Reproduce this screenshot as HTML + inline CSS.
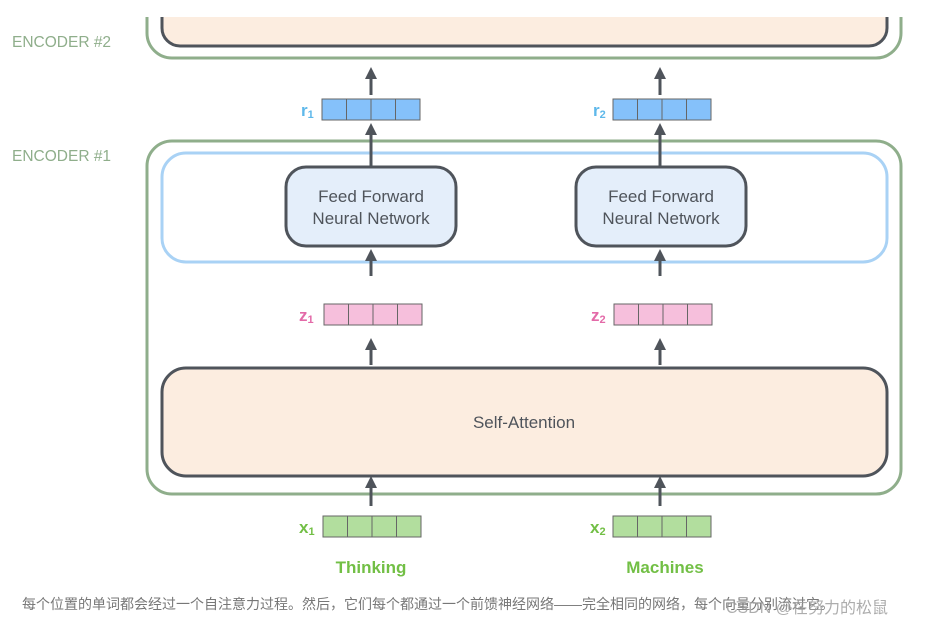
<!DOCTYPE html>
<html><head><meta charset="utf-8"><style>
body{margin:0;background:#fff;width:932px;height:627px;overflow:hidden}
text{font-family:"Liberation Sans","Noto Sans CJK SC",sans-serif}
</style></head><body>
<svg width="932" height="627" viewBox="0 0 932 627" xmlns="http://www.w3.org/2000/svg">
<defs>
<marker id="a" markerWidth="4" markerHeight="4" refX="2" refY="2" orient="auto" markerUnits="strokeWidth"><path d="M0,0 L4,2 L0,4 z" fill="#4f545b"/></marker>
</defs>
<!-- Encoder 2 -->
<rect x="147" y="-40" width="754" height="98" rx="25" fill="none" stroke="#8fae8b" stroke-width="3"/>
<rect x="162" y="-40" width="725" height="86" rx="18" fill="#fcede0" stroke="#4f545b" stroke-width="3"/>
<rect x="0" y="0" width="932" height="17" fill="#fff"/>
<text x="12" y="47" font-size="15.5" fill="#8fae8b">ENCODER #2</text>
<text x="12" y="161" font-size="15.5" fill="#8fae8b">ENCODER #1</text>
<!-- Encoder 1 -->
<rect x="147" y="141" width="754" height="353" rx="25" fill="none" stroke="#8fae8b" stroke-width="3"/>
<rect x="162" y="153" width="725" height="109" rx="24" fill="none" stroke="#a9d2f5" stroke-width="3"/>
<rect x="286" y="167" width="170" height="79" rx="20" fill="#e4eefa" stroke="#4f545b" stroke-width="3"/>
<rect x="576" y="167" width="170" height="79" rx="20" fill="#e4eefa" stroke="#4f545b" stroke-width="3"/>
<text x="371" y="202" font-size="17" fill="#4f545b" text-anchor="middle">Feed Forward</text>
<text x="371" y="224" font-size="17" fill="#4f545b" text-anchor="middle">Neural Network</text>
<text x="661" y="202" font-size="17" fill="#4f545b" text-anchor="middle">Feed Forward</text>
<text x="661" y="224" font-size="17" fill="#4f545b" text-anchor="middle">Neural Network</text>
<rect x="162" y="368" width="725" height="108" rx="24" fill="#fcede0" stroke="#4f545b" stroke-width="3"/>
<text x="524" y="428" font-size="17" fill="#4f545b" text-anchor="middle">Self-Attention</text>
<!-- vectors -->
<g stroke="#666" stroke-width="1">
<g fill="#85c1fa"><rect x="322" y="99" width="24.5" height="21"/><rect x="346.5" y="99" width="24.5" height="21"/><rect x="371" y="99" width="24.5" height="21"/><rect x="395.5" y="99" width="24.5" height="21"/>
<rect x="613" y="99" width="24.5" height="21"/><rect x="637.5" y="99" width="24.5" height="21"/><rect x="662" y="99" width="24.5" height="21"/><rect x="686.5" y="99" width="24.5" height="21"/></g>
<g fill="#f6bfdc"><rect x="324" y="304" width="24.5" height="21"/><rect x="348.5" y="304" width="24.5" height="21"/><rect x="373" y="304" width="24.5" height="21"/><rect x="397.5" y="304" width="24.5" height="21"/>
<rect x="614" y="304" width="24.5" height="21"/><rect x="638.5" y="304" width="24.5" height="21"/><rect x="663" y="304" width="24.5" height="21"/><rect x="687.5" y="304" width="24.5" height="21"/></g>
<g fill="#b2de9e"><rect x="323" y="516" width="24.5" height="21"/><rect x="347.5" y="516" width="24.5" height="21"/><rect x="372" y="516" width="24.5" height="21"/><rect x="396.5" y="516" width="24.5" height="21"/>
<rect x="613" y="516" width="24.5" height="21"/><rect x="637.5" y="516" width="24.5" height="21"/><rect x="662" y="516" width="24.5" height="21"/><rect x="686.5" y="516" width="24.5" height="21"/></g>
</g>
<g font-weight="bold" font-size="17">
<text x="301" y="116" fill="#5eb8ea">r<tspan font-size="11" dy="2">1</tspan></text>
<text x="593" y="116" fill="#5eb8ea">r<tspan font-size="11" dy="2">2</tspan></text>
<text x="299" y="321" fill="#e36aa8">z<tspan font-size="11" dy="2">1</tspan></text>
<text x="591" y="321" fill="#e36aa8">z<tspan font-size="11" dy="2">2</tspan></text>
<text x="299" y="533" fill="#72bf45">x<tspan font-size="11" dy="2">1</tspan></text>
<text x="590" y="533" fill="#72bf45">x<tspan font-size="11" dy="2">2</tspan></text>
<text x="371" y="573" fill="#72bf45" font-size="17" text-anchor="middle">Thinking</text>
<text x="665" y="573" fill="#72bf45" font-size="17" text-anchor="middle">Machines</text>
</g>
<!-- arrows -->
<g stroke="#4f545b" stroke-width="3" marker-end="url(#a)">
<line x1="371" y1="95" x2="371" y2="73"/><line x1="660" y1="95" x2="660" y2="73"/>
<line x1="371" y1="167" x2="371" y2="129"/><line x1="660" y1="167" x2="660" y2="129"/>
<line x1="371" y1="276" x2="371" y2="255"/><line x1="660" y1="276" x2="660" y2="255"/>
<line x1="371" y1="365" x2="371" y2="344"/><line x1="660" y1="365" x2="660" y2="344"/>
<line x1="371" y1="506" x2="371" y2="482"/><line x1="660" y1="506" x2="660" y2="482"/>
</g>
<text x="22" y="609" font-size="14" fill="#777">每个位置的单词都会经过一个自注意力过程。然后，它们每个都通过一个前馈神经网络——完全相同的网络，每个向量分别流过它。</text>
<text x="726" y="613" font-size="16" fill="#999" opacity="0.8">CSDN @在努力的松鼠</text>
</svg>
</body></html>
